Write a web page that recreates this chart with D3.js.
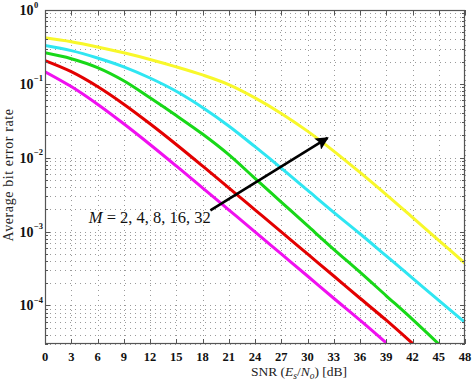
<!DOCTYPE html>
<html><head><meta charset="utf-8">
<script src="https://cdn.jsdelivr.net/npm/d3@7/dist/d3.min.js"></script>
<style>body{margin:0;background:#fff}svg{display:block}</style>
</head><body>
<svg id="chart" width="474" height="381"></svg>
<script>
// ---- data ----
const snrDb = [0,3,6,9,12,15,18,21,24,27,30,33,36,39,42,45,48];
const berM2  = [0.146,0.0919,0.0530,0.0288,0.0151,0.00773,0.00391,0.00197,0.000992,0.000498,0.000250,0.000125,0.0000630,0.0000310];
const berM4  = [0.206,0.146,0.0919,0.0530,0.0288,0.0151,0.00773,0.00391,0.00197,0.000992,0.000498,0.000250,0.000125,0.0000630,0.0000305];
const berM8  = [0.263,0.219,0.166,0.110,0.0646,0.0372,0.0209,0.0110,0.00525,0.00251,0.00120,0.000575,0.000282,0.000135,0.0000646,0.0000300];
const berM16 = [0.331,0.282,0.224,0.170,0.120,0.0794,0.0479,0.0269,0.0141,0.00724,0.00363,0.00182,0.000933,0.000468,0.000234,0.000117,0.0000589];
const berM32 = [0.421,0.372,0.316,0.263,0.214,0.170,0.132,0.0977,0.0646,0.0398,0.0229,0.0123,0.00631,0.00316,0.00155,0.000759,0.000372];
const seriesNames = ["M=2","M=4","M=8","M=16","M=32"];
const seriesColors = ["#f010f0","#e30000","#18d818","#2fe6f2","#f8f82a"];
const xTickLabels = ["0","3","6","9","12","15","18","21","24","27","30","33","36","39","42","45","48"];
const yDecadeExps = [0,-1,-2,-3,-4];
const yDomain = [3e-5, 1];
const arrowFrom = [18.9, 0.00194];
const arrowTo = [32.3, 0.0185];
const annotAt = [5.0, 0.00131];

// ---- layout ----
const W = 474, H = 381;
const m = {left:45, right:9, top:10, bottom:37};
const iw = W - m.left - m.right, ih = H - m.top - m.bottom;
const svg = d3.select("#chart");
const x = d3.scaleLinear().domain([0,48]).range([m.left, m.left+iw]);
const y = d3.scaleLog().domain(yDomain).range([m.top+ih, m.top]);
const serif = "'Liberation Serif','Times New Roman',serif";

// grid values
const yGrid = [];
for (let e=-5; e<=0; e++) for (let k=1; k<=9; k++) {
  const v = k*Math.pow(10,e);
  if (v >= yDomain[0] && v <= yDomain[1]) yGrid.push(v);
}
const g = svg.append("g");
g.selectAll("line.vg").data(snrDb).join("line")
  .attr("x1", d=>Math.round(x(d))+0.5).attr("x2", d=>Math.round(x(d))+0.5)
  .attr("y1", m.top).attr("y2", m.top+ih)
  .attr("stroke","#9a9a9a").attr("stroke-width",1).attr("stroke-dasharray","1,4");
g.selectAll("line.hg").data(yGrid).join("line")
  .attr("x1", m.left).attr("x2", m.left+iw)
  .attr("y1", d=>Math.round(y(d))+0.5).attr("y2", d=>Math.round(y(d))+0.5)
  .attr("stroke","#9a9a9a").attr("stroke-width",1).attr("stroke-dasharray","1,4");

// clip
svg.append("clipPath").attr("id","clip").append("rect")
  .attr("x",m.left).attr("y",m.top).attr("width",iw).attr("height",ih);

const allSeries = [berM2, berM4, berM8, berM16, berM32];
const line = d3.line().x(d=>x(d[0])).y(d=>y(d[1])).curve(d3.curveCatmullRom.alpha(0.5));
svg.append("g").attr("clip-path","url(#clip)")
  .selectAll("path").data(allSeries.map((s,i)=>({name:seriesNames[i], pts:s.map((v,j)=>[snrDb[j],v]), c:seriesColors[i]})).reverse())
  .join("path")
  .attr("d", d=>line(d.pts)).attr("fill","none")
  .attr("stroke", d=>d.c).attr("stroke-width",3).attr("stroke-linejoin","round");

// frame
svg.append("rect").attr("x",m.left+0.5).attr("y",m.top+0.5).attr("width",iw-1).attr("height",ih-1)
  .attr("fill","none").attr("stroke","#555").attr("stroke-width",1.2);

// ticks (inside)
const tk = svg.append("g").attr("stroke","#555").attr("stroke-width",1);
snrDb.forEach(d=>{
  const px = Math.round(x(d))+0.5;
  tk.append("line").attr("x1",px).attr("x2",px).attr("y1",m.top+ih).attr("y2",m.top+ih-5);
  tk.append("line").attr("x1",px).attr("x2",px).attr("y1",m.top).attr("y2",m.top+5);
});
yGrid.forEach(v=>{
  const py = Math.round(y(v))+0.5;
  const major = Math.abs(Math.log10(v) - Math.round(Math.log10(v))) < 1e-9;
  const L = major ? 5 : 3;
  tk.append("line").attr("x1",m.left).attr("x2",m.left+L).attr("y1",py).attr("y2",py);
  tk.append("line").attr("x1",m.left+iw).attr("x2",m.left+iw-L).attr("y1",py).attr("y2",py);
});

// x tick labels
svg.append("g").selectAll("text").data(snrDb).join("text")
  .attr("x", d=>x(d)).attr("y", m.top+ih+17)
  .attr("text-anchor","middle")
  .attr("font-family",serif)
  .attr("font-weight","bold").attr("font-size",12.5).attr("fill","#111")
  .text((d,i)=>xTickLabels[i]);

// y tick labels 10^k
const yl = svg.append("g").attr("font-family",serif)
  .attr("font-weight","bold").attr("fill","#111");
yDecadeExps.forEach(e=>{
  const py = y(Math.pow(10,e));
  yl.append("text").attr("x",33.5).attr("y",py+5).attr("text-anchor","end").attr("font-size",14).text("10");
  yl.append("text").attr("x",34).attr("y",py-2.5).attr("text-anchor","start").attr("font-size",8.5)
    .text(e===0 ? "0" : "\u2212"+(-e));
});

// axis titles
svg.append("text")
  .attr("transform",`translate(13,${m.top+ih/2-2}) rotate(-90)`)
  .attr("text-anchor","middle")
  .attr("font-family",serif)
  .attr("font-size",14).attr("letter-spacing",0.6).attr("fill","#222")
  .text("Average bit error rate");

const xt = svg.append("text")
  .attr("x", x(24)+44).attr("y", H-5).attr("text-anchor","middle")
  .attr("font-family",serif)
  .attr("font-size",13.5).attr("fill","#222");
xt.append("tspan").text("SNR (");
xt.append("tspan").attr("font-style","italic").text("E");
xt.append("tspan").attr("font-style","italic").attr("font-size",9.5).attr("dy",3).text("s");
xt.append("tspan").attr("dy",-3).text("/");
xt.append("tspan").attr("font-style","italic").text("N");
xt.append("tspan").attr("font-style","italic").attr("font-size",9.5).attr("dy",3).text("o");
xt.append("tspan").attr("dy",-3).text(") [dB]");

// annotation arrow
svg.append("defs").append("marker").attr("id","ah").attr("viewBox","0 0 10 10")
  .attr("refX",9).attr("refY",5).attr("markerWidth",5).attr("markerHeight",5)
  .attr("markerUnits","strokeWidth").attr("orient","auto")
  .append("path").attr("d","M0,0 L10,5 L0,10 L2,5 Z").attr("fill","#000");
svg.append("line")
  .attr("x1",x(arrowFrom[0])).attr("y1",y(arrowFrom[1]))
  .attr("x2",x(arrowTo[0])).attr("y2",y(arrowTo[1]))
  .attr("stroke","#000").attr("stroke-width",2.6).attr("marker-end","url(#ah)");

const at = svg.append("text").attr("x",x(annotAt[0])).attr("y",y(annotAt[1]))
  .attr("font-family",serif)
  .attr("font-size",16.5).attr("fill","#111");
at.append("tspan").attr("font-style","italic").text("M");
at.append("tspan").text(" = 2, 4, 8, 16, 32");
</script>
</body></html>
